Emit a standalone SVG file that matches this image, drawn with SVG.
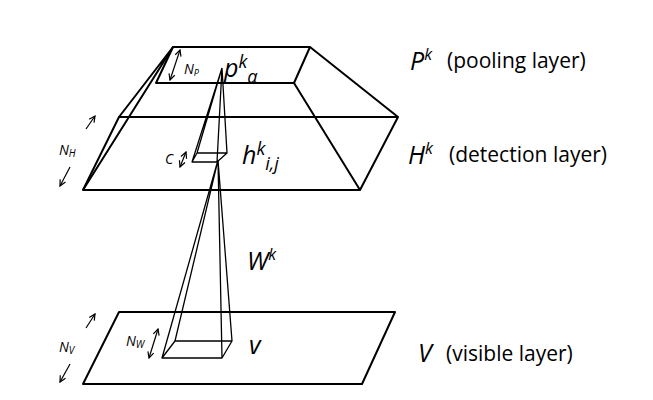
<svg xmlns="http://www.w3.org/2000/svg" width="653" height="400" viewBox="0 0 653 400">
<defs><marker id="a" markerWidth="8" markerHeight="8" refX="7" refY="4" orient="auto-start-reverse" markerUnits="userSpaceOnUse"><path d="M1,1 L7,4 L1,7" fill="none" stroke="#000" stroke-width="1.2"/></marker></defs>
<style>.l{fill:none;stroke:#000;stroke-width:2;stroke-linejoin:round}.t{stroke-width:1.3}.ar{stroke:#000;stroke-width:1.2;fill:none}text{font-family:"Open Sans","DejaVu Sans",sans-serif;fill:#000}.b{font-size:25px;font-style:italic}.n{font-size:14px;font-style:italic}.d{font-size:21px}</style>
<rect width="653" height="400" fill="#fff"/>
<g id="pooling" class="l"><path d="M173,47 L310,47 L294,83 L156,83 Z"/><path d="M173,47 L119,117 M173,47 L83,190 M310,47 L398,117 M294,83 L360,190"/></g>
<g id="detection" class="l"><path d="M119,117 L398,117 L360,190 L83,190 Z"/></g>
<g id="visible" class="l"><path d="M119,312 L395,312 L362,384 L83,384 Z"/></g>
<g id="connectors">
<g class="l t"><path d="M222,68 L192,162 M222,68 L197,153 M222,68 L227,153 M222,68 L217,162 M192,162 L217,162 L227,153 L197,153 Z"/>
<path d="M218,160 L162,358 M218,160 L175,341 M218,160 L232,341 M218,160 L222,358 M162,358 L222,358 L232,341 L175,341 Z"/></g>
<line class="ar" x1="180" y1="50" x2="170" y2="80" marker-start="url(#a)" marker-end="url(#a)"/>
<line class="ar" x1="186" y1="152" x2="180" y2="167" marker-start="url(#a)" marker-end="url(#a)"/>
<line class="ar" x1="158" y1="329" x2="149" y2="358" marker-start="url(#a)" marker-end="url(#a)"/>
<line class="ar" x1="86" y1="129" x2="95" y2="116" marker-end="url(#a)"/>
<line class="ar" x1="70" y1="167" x2="60" y2="186" marker-end="url(#a)"/>
<line class="ar" x1="86" y1="328" x2="95" y2="314" marker-end="url(#a)"/>
<line class="ar" x1="70" y1="364" x2="60" y2="382" marker-end="url(#a)"/>
</g>
<g id="labels">
<text x="410" y="70" class="b">P<tspan font-size="16" dy="-10">k</tspan></text><text x="447" y="68" class="d">(pooling layer)</text>
<text x="408" y="164" class="b">H<tspan font-size="16" dy="-10">k</tspan></text><text x="449" y="162" class="d">(detection layer)</text>
<text x="418" y="362" class="b">V</text><text x="446" y="361" class="d">(visible layer)</text>
<text x="247" y="270" class="b">W<tspan font-size="16" dy="-10">k</tspan></text>
<text x="249" y="354" class="b">v</text>
<text x="224" y="77" class="b">p<tspan font-size="18" dy="-9">k</tspan><tspan font-size="18" dy="15">α</tspan></text>
<text x="242" y="164" class="b">h<tspan font-size="18" dy="-9">k</tspan><tspan font-size="18" dy="15">i,j</tspan></text>
<text x="184" y="74" class="n">N<tspan font-size="9" dy="2">P</tspan></text>
<text x="165" y="164" class="n">C</text>
<text x="126" y="346" class="n">N<tspan font-size="10" dy="2">W</tspan></text>
<text x="59" y="155" class="n">N<tspan font-size="10" dy="2">H</tspan></text>
<text x="59" y="352" class="n">N<tspan font-size="10" dy="2">V</tspan></text>
</g>
</svg>
